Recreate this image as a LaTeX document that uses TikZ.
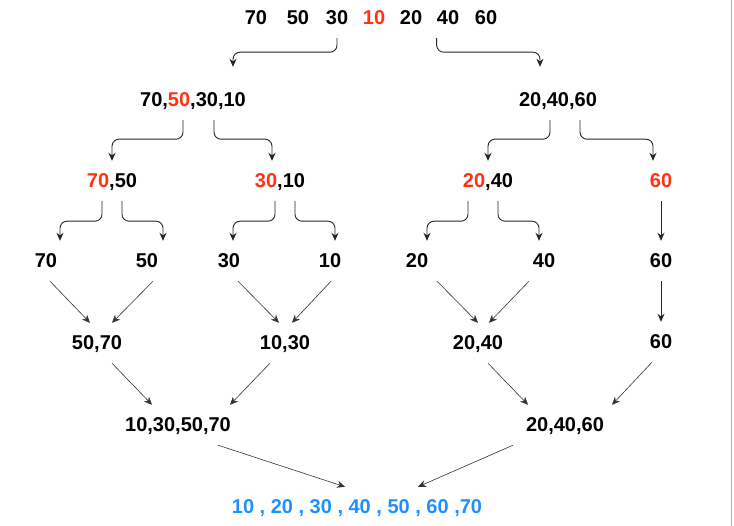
\documentclass[tikz,border=0pt]{standalone}
\usepackage{fontspec}
\setmainfont{Liberation Sans}
\usetikzlibrary{arrows.meta}
\definecolor{pivot}{RGB}{255,51,17}
\definecolor{sorted}{RGB}{30,144,255}

\begin{document}
\begin{tikzpicture}[
    x=1pt, y=-1pt,
    num/.style={
        inner xsep=0pt, inner ysep=13pt,
        text height=14pt, text depth=0pt,
        font=\fontsize{20}{24}\selectfont\bfseries
    },
    splitarrow/.style={-{Stealth[length=8pt,width=7pt]},
        line width=0.9pt, rounded corners=7pt, black!85},
    mergearrow/.style={-{Stealth[length=8pt,width=7pt]},
        line width=0.6pt, black!80}
]
\fill[white] (0,0) rectangle (734,526);
\useasboundingbox (0,0) rectangle (734,526);
\draw[gray!60, line width=0.8pt] (731,0) -- (731,526);

% input
\node[num] (t70) at (256,18) {70};
\node[num] (t50) at (298,18) {50};
\node[num] (t30) at (337,18) {30};
\node[num,text=pivot] (t10) at (374,18) {10};
\node[num] (t20) at (411,18) {20};
\node[num] (t40) at (448,18) {40};
\node[num] (t60) at (486,18) {60};

% split
\node[num] (r2l) at (193,100) {70,\textcolor{pivot}{50},30,10};
\node[num] (r2r) at (558,100) {20,40,60};

\node[num] (r3a) at (112,181) {\textcolor{pivot}{70},50};
\node[num] (r3b) at (280,181) {\textcolor{pivot}{30},10};
\node[num] (r3c) at (488,181) {\textcolor{pivot}{20},40};
\node[num,text=pivot] (r3d) at (661,181) {60};

\node[num] (r4a) at (46,261)  {70};
\node[num] (r4b) at (147,261) {50};
\node[num] (r4c) at (229,261) {30};
\node[num] (r4d) at (330,261) {10};
\node[num] (r4e) at (417,261) {20};
\node[num] (r4f) at (544,261) {40};
\node[num] (r4g) at (661,261) {60};

% merge
\node[num] (r5a) at (97,343)  {50,70};
\node[num] (r5b) at (285,343) {10,30};
\node[num] (r5c) at (478,343) {20,40};
\node[num] (r5d) at (661,342) {60};

\node[num] (r6a) at (178,425) {10,30,50,70};
\node[num] (r6b) at (565,425) {20,40,60};

\node[num,text=sorted] (fin) at (357,507) {10 , 20 , 30 , 40 , 50 , 60 ,70};

\draw[splitarrow] (t30.south) -- ++(0,14) -| ([xshift=40pt,yshift=13pt]r2l.north);
\draw[splitarrow] (t40.south west) -- ++(0,14) -| ([xshift=-18pt,yshift=13pt]r2r.north);

\draw[splitarrow] ([xshift=-10pt]r2l.south) -- ++(0,19) -| (r3a.north);
\draw[splitarrow] ([xshift=21pt]r2l.south) -- ++(0,19) -| ([xshift=-8pt]r3b.north);
\draw[splitarrow] ([xshift=-8pt]r2r.south) -- ++(0,19) -| (r3c.north);
\draw[splitarrow] ([xshift=22pt]r2r.south) -- ++(0,19) -| ([xshift=-8pt]r3d.north);

\draw[splitarrow] ([xshift=-10pt]r3a.south) -- ++(0,20) -| ([xshift=14pt]r4a.north);
\draw[splitarrow] ([xshift=10pt]r3a.south) -- ++(0,20) -| ([xshift=16pt]r4b.north);
\draw[splitarrow] ([xshift=-5pt]r3b.south) -- ++(0,20) -| ([xshift=4pt]r4c.north);
\draw[splitarrow] ([xshift=15pt]r3b.south) -- ++(0,20) -| ([xshift=5pt]r4d.north);
\draw[splitarrow] ([xshift=-20pt]r3c.south) -- ++(0,20) -| ([xshift=10pt]r4e.north);
\draw[splitarrow] ([xshift=10pt]r3c.south) -- ++(0,20) -| ([xshift=-5pt]r4f.north);
\draw[splitarrow] (r3d.south) -- (r4g.north);

\draw[mergearrow] ([xshift=4pt]r4a.south)   -- ([xshift=-7pt]r5a.north);
\draw[mergearrow] ([xshift=6pt]r4b.south)   -- ([xshift=15pt]r5a.north);
\draw[mergearrow] ([xshift=9pt]r4c.south)   -- ([xshift=-6pt]r5b.north);
\draw[mergearrow] ([xshift=1pt]r4d.south)   -- ([xshift=7pt]r5b.north);
\draw[mergearrow] ([xshift=20pt]r4e.south)  -- (r5c.north);
\draw[mergearrow] ([xshift=-15pt]r4f.south) -- ([xshift=11pt]r5c.north);
\draw[splitarrow] (r4g.south) -- (r5d.north);

\draw[mergearrow] ([xshift=15pt]r5a.south)  -- ([xshift=-26pt]r6a.north);
\draw[mergearrow] ([xshift=-15pt]r5b.south) -- ([xshift=52pt]r6a.north);
\draw[mergearrow] ([xshift=10pt]r5c.south)  -- ([xshift=-37pt]r6b.north);
\draw[mergearrow] ([xshift=-9pt]r5d.south)  -- ([xshift=47pt]r6b.north);

\draw[mergearrow] ([xshift=40pt]r6a.south)  -- ([xshift=-12pt]fin.north);
\draw[mergearrow] ([xshift=-52pt]r6b.south) -- ([xshift=61pt]fin.north);
\end{tikzpicture}
\end{document}
